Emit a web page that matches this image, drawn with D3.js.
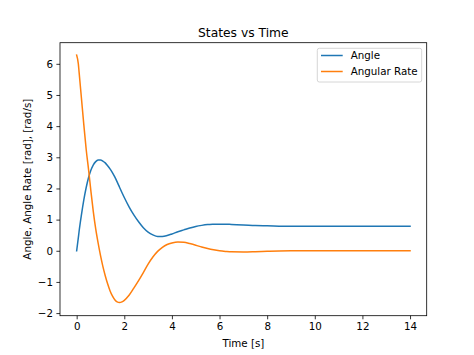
<!DOCTYPE html>
<html><head><meta charset="utf-8">
<script src="https://cdn.jsdelivr.net/npm/d3@7"></script>
<style>body{margin:0;background:#fff}svg{display:block}text{font-family:"DejaVu Sans",sans-serif;fill:#000}</style>
</head><body>
<script>
const timeS = [0,0.07,0.1,0.2,0.3,0.4,0.5,0.6,0.7,0.8,0.9,1.0,1.1,1.2,1.3,1.4,1.5,1.6,1.7,1.8,1.9,2.0,2.2,2.4,2.6,2.8,3.0,3.2,3.4,3.6,3.8,4.0,4.25,4.5,4.75,5.0,5.25,5.5,5.75,6.0,6.25,6.5,7.0,7.5,8.0,8.5,9,10,11,12,13,14];
const angle = [0,0.42,0.61,1.15,1.63,2.03,2.35,2.59,2.76,2.86,2.91,2.915,2.88,2.82,2.73,2.63,2.51,2.37,2.21,2.04,1.87,1.71,1.41,1.15,0.93,0.74,0.60,0.51,0.46,0.46,0.49,0.54,0.61,0.67,0.73,0.78,0.815,0.84,0.85,0.855,0.853,0.845,0.83,0.81,0.80,0.79,0.785,0.785,0.785,0.785,0.785,0.785];
const angularRate = [6.28,6.0,5.75,4.9,4.05,3.25,2.6,1.9,1.25,0.7,0.25,-0.15,-0.5,-0.8,-1.06,-1.28,-1.45,-1.57,-1.64,-1.66,-1.64,-1.59,-1.43,-1.2,-0.96,-0.7,-0.43,-0.2,-0.02,0.11,0.2,0.25,0.28,0.27,0.23,0.18,0.12,0.07,0.03,0.0,-0.02,-0.035,-0.04,-0.03,-0.015,-0.005,0,0,0,0,0,0];
const xTicks = [0,2,4,6,8,10,12,14];
const yTicks = [-2,-1,0,1,2,3,4,5,6];
const seriesNames = ["Angle","Angular Rate"];
const colors = ["#1f77b4","#ff7f0e"];

const W=474,H=355;
const L=60,T=42.7,R=426.7,B=315.7;
const svg=d3.select("body").append("svg").attr("width",W).attr("height",H);
const x=d3.scaleLinear().domain([-0.7,14.7]).range([L,R]);
const y=d3.scaleLinear().domain([-2.084,6.678]).range([B,T]);

const fmt=d=>d<0?"\u2212"+Math.abs(d):String(d);
const xa=svg.append("g").attr("transform",`translate(0,${B})`).call(d3.axisBottom(x).tickValues(xTicks).tickSize(3.6).tickPadding(3.4).tickFormat(fmt));
const ya=svg.append("g").attr("transform",`translate(${L},0)`).call(d3.axisLeft(y).tickValues(yTicks).tickSize(3.6).tickPadding(3.4).tickFormat(fmt));
[xa,ya].forEach(a=>{a.select(".domain").remove();a.selectAll("line").attr("stroke","#000").attr("stroke-width",0.8);a.selectAll("text").attr("font-size","10.3px").attr("font-family","DejaVu Sans");});

const series=[angle,angularRate];
const line=d3.line().x((d,i)=>x(timeS[i])).y(d=>y(d)).curve(d3.curveMonotoneX);
series.forEach((s,k)=>{
  svg.append("path").datum(s).attr("d",line).attr("fill","none").attr("stroke",colors[k]).attr("stroke-width",1.5).attr("stroke-linejoin","round").attr("stroke-linecap","square");
});

svg.append("rect").attr("x",L).attr("y",T).attr("width",R-L).attr("height",B-T).attr("fill","none").attr("stroke","#000").attr("stroke-width",0.8);

svg.append("text").attr("x",(L+R)/2).attr("y",36.5).attr("text-anchor","middle").attr("font-size","12.3px").text("States vs Time");
svg.append("text").attr("x",(L+R)/2).attr("y",347).attr("text-anchor","middle").attr("font-size","10.3px").text("Time [s]");
svg.append("text").attr("transform",`translate(30.5,${(T+B)/2}) rotate(-90)`).attr("text-anchor","middle").attr("font-size","10.3px").text("Angle, Angle Rate [rad], [rad/s]");

const lg=svg.append("g");
lg.append("rect").attr("x",317.3).attr("y",48.3).attr("width",104.4).attr("height",33.7).attr("rx",2).attr("fill","#fff").attr("fill-opacity",0.8).attr("stroke","#cccccc").attr("stroke-width",0.8);
seriesNames.forEach((n,k)=>{
  const yy=55.5+k*16;
  lg.append("line").attr("x1",321).attr("x2",342.7).attr("y1",yy).attr("y2",yy).attr("stroke",colors[k]).attr("stroke-width",1.5);
  lg.append("text").attr("x",350.7).attr("y",yy+3.7).attr("font-size","10.3px").text(n);
});
</script>
</body></html>
